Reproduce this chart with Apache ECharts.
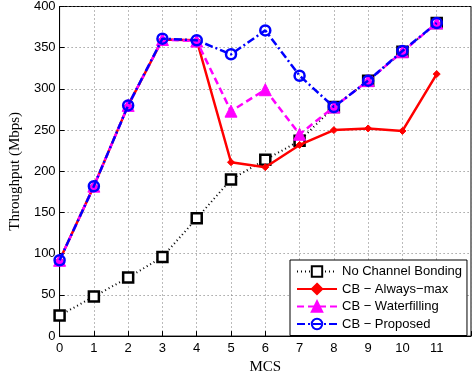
<!DOCTYPE html>
<html>
<head>
<meta charset="utf-8">
<script src="https://cdn.jsdelivr.net/npm/echarts@6/dist/echarts.min.js"></script>
<style>html,body{margin:0;padding:0;background:#fff;}#c{width:474px;height:380px;}</style>
</head>
<body>
<div id="c"></div>
<script>
var mcs = [0,1,2,3,4,5,6,7,8,9,10,11];
var seriesNames = ['No Channel Bonding','CB \u2212 Always\u2212max','CB \u2212 Waterfilling','CB \u2212 Proposed'];
var noBonding   = [25, 48, 71, 96, 143, 190, 214, 237, 278, 310, 345, 380];
var alwaysMax   = [92, 182, 280, 360, 359, 211, 205, 232, 250, 252, 249, 318];
var waterfill   = [92, 182, 280, 360, 358, 273, 299, 245, 278, 310, 345, 380];
var proposed    = [92, 182, 280, 361, 359, 342, 371, 316, 278, 310, 346, 380];
var yTicks = [0,50,100,150,200,250,300,350,400];

function pairs(v){ return mcs.map(function(x,i){ return [x, v[i]]; }); }

var chart = echarts.init(document.getElementById('c'), null, {renderer:'canvas'});
var tickFont = {fontFamily:'Liberation Sans, Arial, sans-serif', fontSize:13, color:'#000'};
chart.setOption({
  animation:false,
  backgroundColor:'#fff',
  grid:{left:50, right:3, top:6, bottom:41, show:true, borderColor:'#000', borderWidth:1, backgroundColor:'transparent'},
  xAxis:{
    type:'value', min:0, max:12, interval:1,
    name:'MCS', nameLocation:'middle', nameGap:17,
    nameTextStyle:{fontFamily:'Liberation Serif, Times New Roman, serif', fontSize:15, color:'#000', verticalAlign:'top'},
    axisLine:{show:true, lineStyle:{color:'#000', width:1}},
    axisTick:{show:true, inside:true, length:5, lineStyle:{color:'#000'}},
    axisLabel:Object.assign({margin:6, formatter:function(v){ return mcs.indexOf(v)>=0 ? String(v) : ''; }}, tickFont),
    splitLine:{show:true, lineStyle:{color:'#777', type:[1,3], width:1}}
  },
  yAxis:{
    type:'value', min:yTicks[0], max:yTicks[yTicks.length-1], interval:50,
    name:'Throughput (Mbps)', nameLocation:'middle', nameGap:34,
    nameTextStyle:{fontFamily:'Liberation Serif, Times New Roman, serif', fontSize:15, color:'#000'},
    axisLine:{show:true, lineStyle:{color:'#000', width:1}},
    axisTick:{show:true, inside:true, length:5, lineStyle:{color:'#000'}},
    axisLabel:Object.assign({margin:4}, tickFont),
    splitLine:{show:true, lineStyle:{color:'#777', type:[1,3], width:1}}
  },
  legend:{
    orient:'vertical', left:290, top:260,
    padding:[5,5,5,6], itemGap:4.5, itemWidth:40, itemHeight:13,
    borderColor:'#000', borderWidth:1, backgroundColor:'#fff',
    textStyle:{fontFamily:'Liberation Sans, Arial, sans-serif', fontSize:13, color:'#000'},
    data:seriesNames
  },
  series:[
    {name:seriesNames[0], type:'line', data:pairs(noBonding), symbol:'rect', symbolSize:10,
     itemStyle:{color:'#fff', borderColor:'#000', borderWidth:2.5},
     lineStyle:{color:'#000', width:2, type:[1,3]}, z:2},
    {name:seriesNames[1], type:'line', data:pairs(alwaysMax), symbol:'diamond', symbolSize:7,
     itemStyle:{color:'#f00', borderColor:'#f00', borderWidth:1},
     lineStyle:{color:'#f00', width:2.5, type:'solid'}, z:3},
    {name:seriesNames[2], type:'line', data:pairs(waterfill), symbol:'triangle', symbolSize:12,
     itemStyle:{color:'#f0f', borderColor:'#f0f', borderWidth:1},
     lineStyle:{color:'#f0f', width:2.5, type:[7,4]}, z:4},
    {name:seriesNames[3], type:'line', data:pairs(proposed), symbol:'circle', symbolSize:10,
     itemStyle:{color:'rgba(255,255,255,0)', borderColor:'#00f', borderWidth:2.5},
     lineStyle:{color:'#00f', width:2.5, type:[8,3,2,3]}, z:5}
  ]
});
</script>
</body>
</html>
